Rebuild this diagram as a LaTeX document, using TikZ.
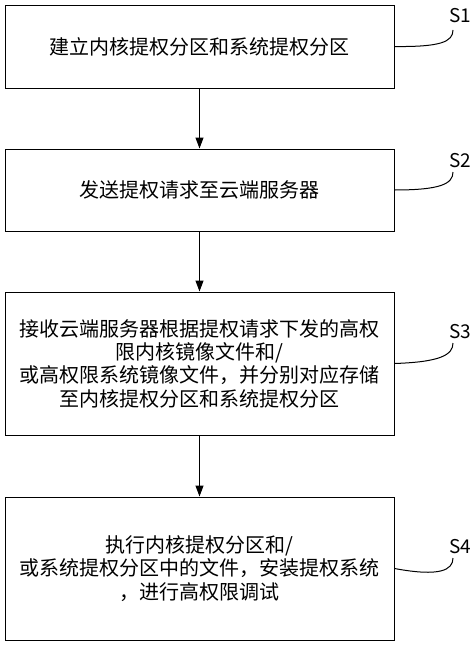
\documentclass[tikz,border=0pt]{standalone}
\usepackage{fontspec}
\setmainfont{Noto Sans CJK SC}
\usetikzlibrary{arrows.meta}

\begin{document}
\begin{tikzpicture}[x=1pt,y=-1pt,
    stepbox/.style={draw,line width=1pt,minimum width=389pt,inner sep=0pt,align=center,
      font=\fontsize{20pt}{23.3pt}\selectfont},
    flow/.style={line width=1pt,-{Triangle[width=8pt,length=11pt]}},
    leader/.style={line width=1pt},
    tag/.style={font=\fontsize{19pt}{22pt}\selectfont}]
    \useasboundingbox (0,0) rectangle (474,645);

    % steps
    \node (s1) at (199.5,46.5) [stepbox,minimum height=83pt] {建立内核提权分区和系统提权分区};
    \node (s2) at (199.5,190) [stepbox,minimum height=82pt] {发送提权请求至云端服务器};
    \node (s3) at (199.5,363.5) [stepbox,minimum height=143pt]
        {接收云端服务器根据提权请求下发的高权\\限内核镜像文件和/\\或高权限系统镜像文件，并分别对应存储\\至内核提权分区和系统提权分区};
    \node (s4) at (199.5,568.5) [stepbox,minimum height=143pt]
        {执行内核提权分区和/\\或系统提权分区中的文件，安装提权系统\\，进行高权限调试};

    \draw[flow] (s1) -- (s2);
    \draw[flow] (s2) -- (s3);
    \draw[flow] (s3) -- (s4);

    % step labels
    \node (t1) at (460,16) [tag] {S1};
    \node (t2) at (460,161) [tag] {S2};
    \node (t3) at (460,332) [tag] {S3};
    \node (t4) at (460,547) [tag] {S4};
    \coordinate (e1) at (453,30);
    \coordinate (e2) at (453,172);
    \coordinate (e3) at (453,343);
    \coordinate (e4) at (453,558);

    \draw[leader] (s1.east) .. controls (440,47) and (453,42) .. (e1);
    \draw[leader] (s2.east) .. controls (440,190) and (453,184) .. (e2);
    \draw[leader] (s3.east) .. controls (440,362) and (453,355) .. (e3);
    \draw[leader] (s4.east) .. controls (440,577) and (453,570) .. (e4);
\end{tikzpicture}
\end{document}
